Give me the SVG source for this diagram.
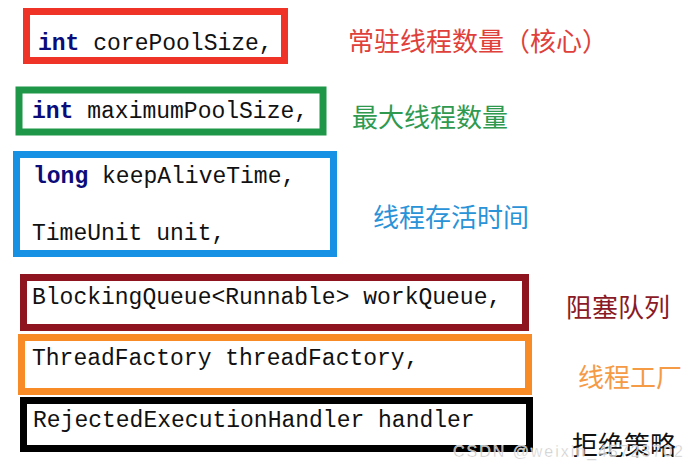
<svg xmlns="http://www.w3.org/2000/svg" width="699" height="471" viewBox="0 0 699 471">
<style>
.box{fill:#fff;stroke-width:7}
.code{font-family:"Liberation Mono","DejaVu Sans Mono",monospace;font-size:23px;fill:#111}
.kw{font-weight:bold;fill:#0b0b7a}
.cn{font-family:"Noto Sans CJK SC","Noto Sans",sans-serif;font-size:26px}
.wm{font-family:"Liberation Sans",Arial,sans-serif;font-size:16px;fill:#bdbdbd;fill-opacity:0.85;stroke:#ffffff;stroke-width:0.4}
</style>
<rect width="699" height="471" fill="#fff"/>
<g id="n-core">
<rect class="box" x="26.5" y="11.5" width="258" height="49" stroke="#ef3326"/>
<text class="code" x="38" y="50"><tspan class="kw">int</tspan> corePoolSize,</text>
<text class="cn" x="348" y="51" fill="#e0403a">常驻线程数量（核心）</text>
</g>
<g id="n-max">
<rect class="box" x="19" y="90" width="304" height="42" stroke="#1e9848" stroke-width="6"/>
<text class="code" x="32" y="118"><tspan class="kw">int</tspan> maximumPoolSize,</text>
<text class="cn" x="352" y="127" fill="#2f9a4f">最大线程数量</text>
</g>
<g id="n-keep">
<rect class="box" x="16.5" y="154.5" width="317" height="99" stroke="#1791e3"/>
<text class="code" x="33" y="183"><tspan class="kw">long</tspan> keepAliveTime,</text>
<text class="code" x="32" y="240">TimeUnit unit,</text>
<text class="cn" x="373" y="227" fill="#2a93d8">线程存活时间</text>
</g>
<g id="n-queue">
<rect class="box" x="23.5" y="277.5" width="502" height="50" stroke="#8e1420"/>
<text class="code" x="32" y="304">BlockingQueue&lt;Runnable&gt; workQueue,</text>
<text class="cn" x="566" y="317" fill="#8a1a26">阻塞队列</text>
</g>
<g id="n-factory">
<rect class="box" x="21.5" y="337.5" width="507" height="54" stroke="#f88b26"/>
<text class="code" x="32" y="365">ThreadFactory threadFactory,</text>
<text class="cn" x="578" y="387" fill="#f59a45">线程工厂</text>
</g>
<g id="n-handler">
<rect class="box" x="23.5" y="400.5" width="506" height="48" stroke="#000"/>
<text class="code" x="33" y="427">RejectedExecutionHandler handler</text>
<text class="cn" x="572" y="455" fill="#111">拒绝策略</text>
</g>
<g id="connectors"></g>
<text class="wm" x="453" y="457" textLength="230" lengthAdjust="spacing">CSDN @weixin_45723702</text>
</svg>
